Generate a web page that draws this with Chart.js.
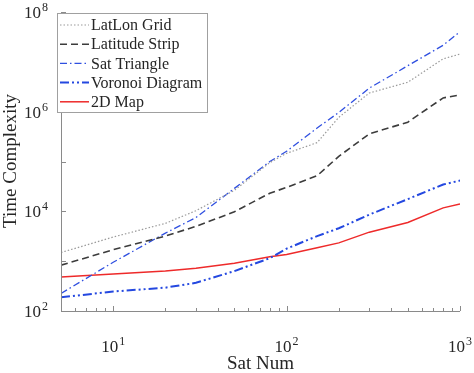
<!DOCTYPE html>
<html>
<head>
<meta charset="utf-8">
<script src="https://cdn.jsdelivr.net/npm/chart.js@4.4.1/dist/chart.umd.min.js"></script>
<style>
  html, body { margin: 0; padding: 0; background: #fff; }
  canvas { display: block; }
</style>
</head>
<body>
<canvas id="grafica" width="474" height="373"></canvas>
<script>
// datos
const satNum = [5, 10, 20, 30, 50, 80, 100, 150, 200, 300, 500, 800, 1000];
const latlonGrid = [1490, 3050, 5730, 10300, 26400, 95000, 146000, 239000, 770000, 2370000, 3890000, 11500000, 14300000];
const latitudeStrip = [830, 1700, 3190, 5000, 9800, 23100, 30200, 51800, 127000, 359000, 615000, 1890000, 2170000];
const satTriangle = [225, 950, 3650, 7500, 28900, 100000, 160000, 470000, 964000, 2970000, 8350000, 21500000, 40300000];
const voronoiDiagram = [188, 246, 294, 368, 632, 1150, 1780, 3190, 4570, 8590, 17600, 34600, 41400];
const map2D = [483, 552, 632, 723, 906, 1220, 1360, 1860, 2330, 3820, 5990, 11750, 14070];

const seriesLabels = ['LatLon Grid', 'Latitude Strip', 'Sat Triangle', 'Voronoi Diagram', '2D Map'];
const xTickExps = [1, 2, 3];
const yTickExps = [2, 4, 6, 8];

const serif = '"Liberation Serif", "Times New Roman", serif';
const textColor = '#262626';
const axisColor = '#8a8a8a';

function puntos(ys) {
  return satNum.map((x, i) => ({ x: x, y: ys[i] }));
}

// dibuja 10^n con superindice
function potencia(ctx, exp, x, y, align) {
  ctx.font = '17px ' + serif;
  const wBase = ctx.measureText('10').width;
  ctx.font = '12px ' + serif;
  const wSup = ctx.measureText(String(exp)).width;
  const total = wBase + wSup + 1;
  let x0 = x;
  if (align === 'center') x0 = x - total / 2;
  if (align === 'right') x0 = x - total;
  ctx.textAlign = 'left';
  ctx.textBaseline = 'alphabetic';
  ctx.font = '17px ' + serif;
  ctx.fillText('10', x0, y);
  ctx.font = '12px ' + serif;
  ctx.fillText(String(exp), x0 + wBase + 1, y - 7);
}

const ejesPlugin = {
  id: 'ejes',
  afterDraw(chart) {
    const ctx = chart.ctx;
    const area = chart.chartArea;
    const sx = chart.scales.x;
    const sy = chart.scales.y;
    ctx.save();
    ctx.strokeStyle = axisColor;
    ctx.lineWidth = 1;
    ctx.setLineDash([]);
    ctx.beginPath();
    ctx.moveTo(area.left + 0.5, area.top);
    ctx.lineTo(area.left + 0.5, area.bottom + 0.5);
    ctx.lineTo(area.right, area.bottom + 0.5);
    ctx.stroke();

    // marcas eje x
    ctx.beginPath();
    for (let d = 0; d <= 3; d++) {
      for (let m = 1; m <= 9; m++) {
        const v = m * Math.pow(10, d);
        if (v < sx.min || v > sx.max) continue;
        const px = Math.round(sx.getPixelForValue(v)) + 0.5;
        const len = m === 1 ? 5 : 3;
        ctx.moveTo(px, area.bottom);
        ctx.lineTo(px, area.bottom - len);
      }
    }
    // marcas eje y
    for (let e = 2; e <= 8; e++) {
      const py = Math.round(sy.getPixelForValue(Math.pow(10, e))) + 0.5;
      ctx.moveTo(area.left, py);
      ctx.lineTo(area.left + 5, py);
    }
    ctx.stroke();

    ctx.fillStyle = textColor;
    xTickExps.forEach(e => {
      potencia(ctx, e, sx.getPixelForValue(Math.pow(10, e)), 352, 'center');
    });
    yTickExps.forEach(e => {
      potencia(ctx, e, 48, sy.getPixelForValue(Math.pow(10, e)) + 6, 'right');
    });

    // titulos
    ctx.font = '19px ' + serif;
    ctx.textAlign = 'center';
    ctx.textBaseline = 'middle';
    ctx.fillText('Sat Num', (area.left + area.right) / 2, 364);
    ctx.save();
    ctx.translate(11, 161);
    ctx.rotate(-Math.PI / 2);
    ctx.fillText('Time Complexity', 0, 0);
    ctx.restore();

    // leyenda
    const lx = 57, ly = 13, lw = 150, lh = 99;
    ctx.fillStyle = '#ffffff';
    ctx.fillRect(lx, ly, lw, lh);
    ctx.strokeStyle = '#a0a0a0';
    ctx.lineWidth = 1;
    ctx.strokeRect(lx + 0.5, ly + 0.5, lw, lh);
    chart.data.datasets.forEach((ds, i) => {
      const yy = 25 + i * 19.2;
      ctx.strokeStyle = ds.borderColor;
      ctx.lineWidth = ds.borderWidth;
      ctx.setLineDash(ds.borderDash || []);
      ctx.beginPath();
      ctx.moveTo(60, yy);
      ctx.lineTo(89, yy);
      ctx.stroke();
      ctx.setLineDash([]);
      ctx.fillStyle = textColor;
      ctx.font = '16px ' + serif;
      ctx.textAlign = 'left';
      ctx.textBaseline = 'middle';
      ctx.fillText(ds.label, 91, yy + 1);
    });
    ctx.restore();
  }
};

const grafica = new Chart(document.getElementById('grafica'), {
  type: 'line',
  data: {
    datasets: [
      { label: seriesLabels[0], data: puntos(latlonGrid), borderColor: '#9a9a9a', borderWidth: 1.2, borderDash: [1.5, 2] },
      { label: seriesLabels[1], data: puntos(latitudeStrip), borderColor: '#3c3c3c', borderWidth: 1.6, borderDash: [7, 4] },
      { label: seriesLabels[2], data: puntos(satTriangle), borderColor: '#2f4fe0', borderWidth: 1.3, borderDash: [7, 3, 1.5, 3] },
      { label: seriesLabels[3], data: puntos(voronoiDiagram), borderColor: '#2448e0', borderWidth: 2, borderDash: [9, 3, 2, 3, 2, 3] },
      { label: seriesLabels[4], data: puntos(map2D), borderColor: '#ee2a2a', borderWidth: 1.5 }
    ]
  },
  options: {
    responsive: false,
    animation: false,
    devicePixelRatio: 1,
    layout: { padding: { left: 53, right: 14, top: 12, bottom: 54 } },
    elements: {
      point: { radius: 0 },
      line: { tension: 0, fill: false }
    },
    scales: {
      x: {
        type: 'logarithmic', min: 5, max: 1000,
        ticks: { display: false }, grid: { display: false }, border: { display: false }
      },
      y: {
        type: 'logarithmic', min: 100, max: 1e8,
        ticks: { display: false }, grid: { display: false }, border: { display: false }
      }
    },
    plugins: {
      legend: { display: false },
      tooltip: { enabled: false }
    }
  },
  plugins: [ejesPlugin]
});
</script>
</body>
</html>
